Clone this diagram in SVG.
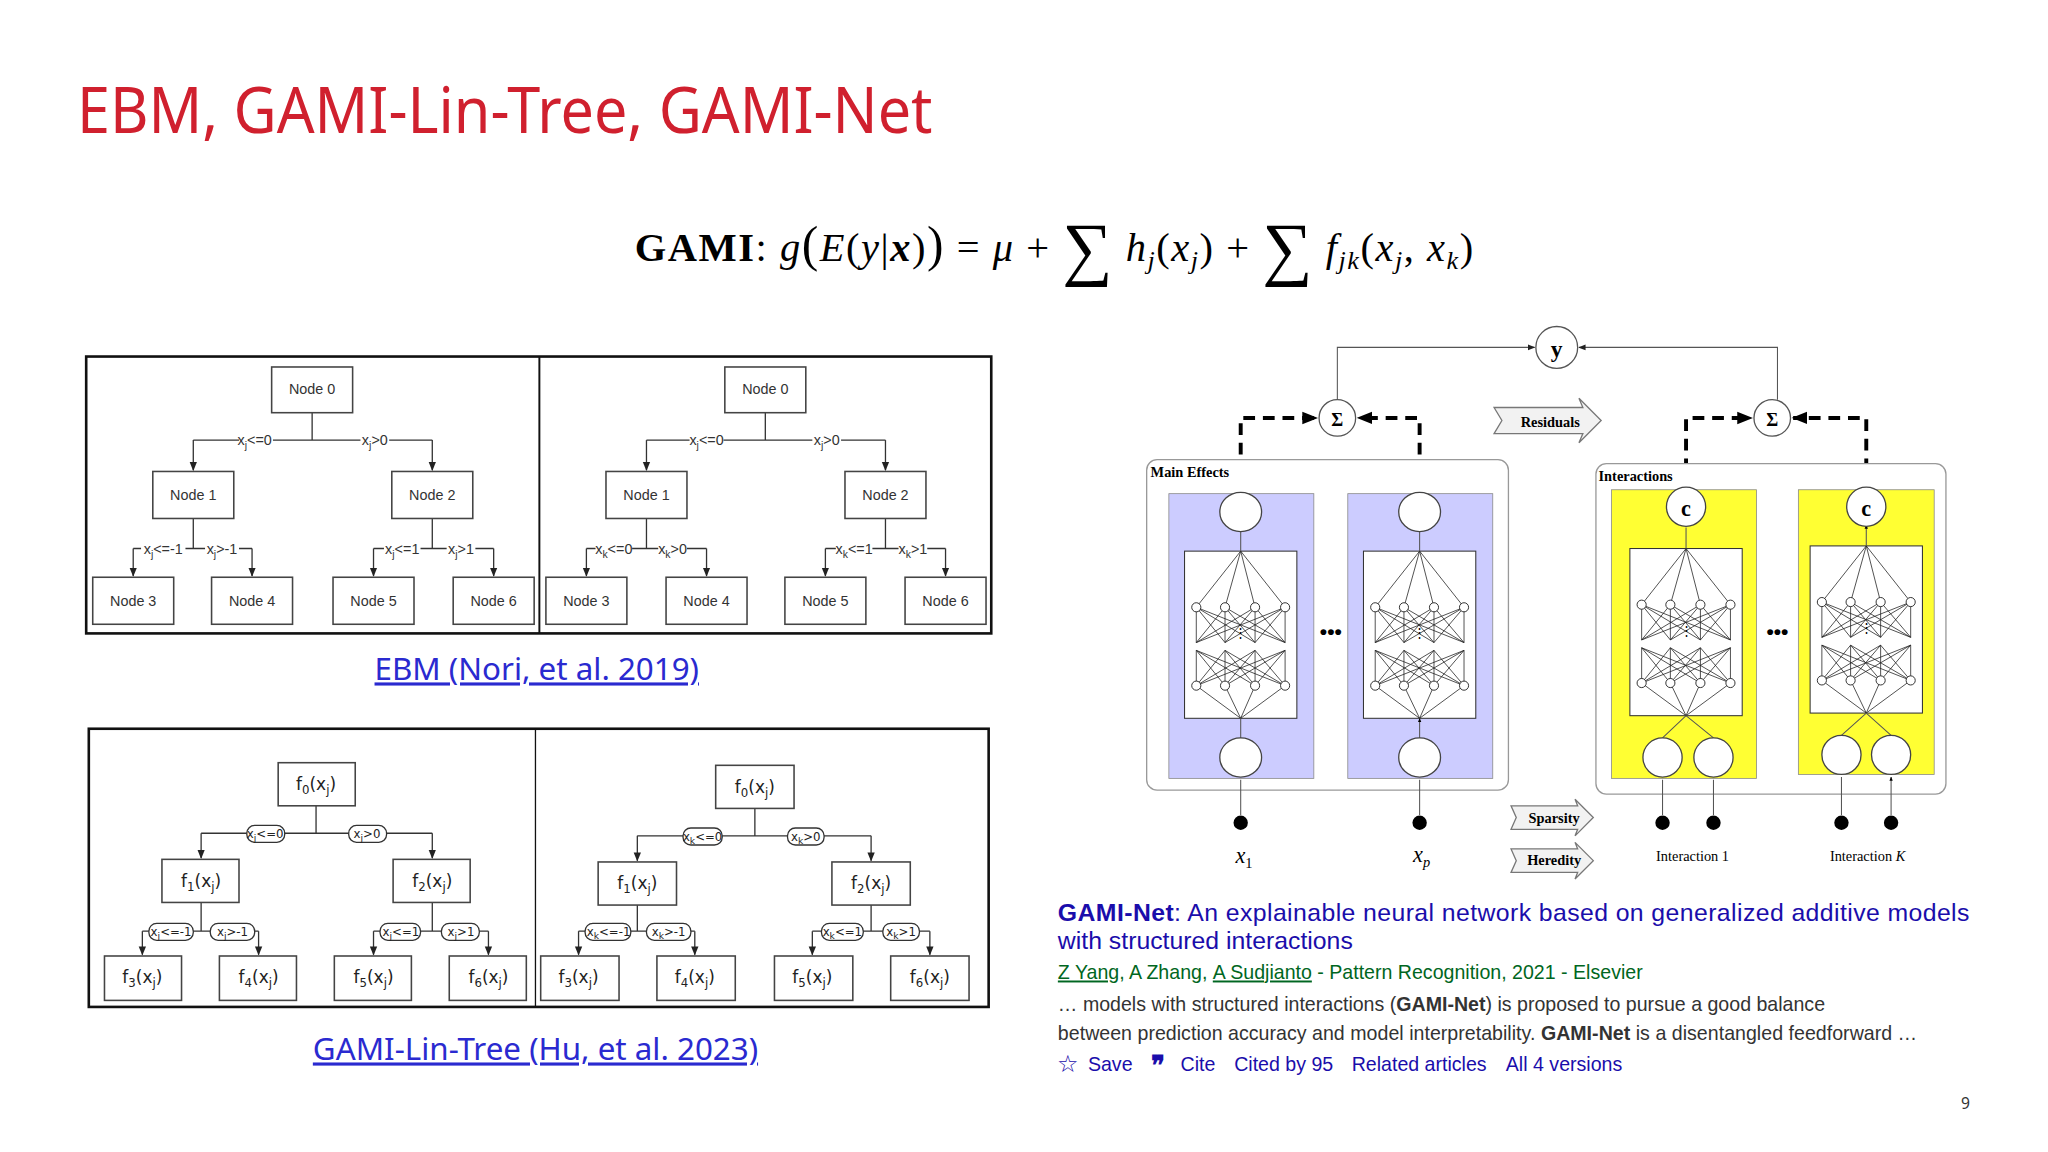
<svg xmlns="http://www.w3.org/2000/svg" width="2048" height="1152" viewBox="0 0 2048 1152">
<style>
.nb{fill:#fff;stroke:#444;stroke-width:1.2}
.ln{fill:none;stroke:#333;stroke-width:1}
.el{font-family:"Liberation Sans",Arial,sans-serif;font-size:11px;fill:#333;text-anchor:middle}
.ft{font-family:"DejaVu Sans",sans-serif;font-size:13px;fill:#222;text-anchor:middle}
.pt{font-family:"DejaVu Sans",sans-serif;font-size:9px;fill:#222;text-anchor:middle}
.pill{fill:#fff;stroke:#333;stroke-width:1}
.cap{font-family:"Noto Sans",sans-serif;font-size:24px;fill:#2a2ad0;text-anchor:middle;text-decoration:underline}
.sf{font-family:"Liberation Serif",serif}
.dash{fill:none;stroke:#000;stroke-width:3;stroke-dasharray:9,6}
.thin{fill:none;stroke:#555;stroke-width:0.8}
.g{font-family:"Liberation Sans",Arial,sans-serif;font-size:15px}
</style>
<defs>
<marker id="ah" viewBox="0 0 10 10" refX="9" refY="5" markerWidth="7" markerHeight="7" orient="auto"><path d="M0,1 L10,5 L0,9 z" fill="#222"/></marker>
<marker id="ah2" viewBox="0 0 10 10" refX="9" refY="5" markerWidth="4" markerHeight="4" orient="auto"><path d="M0,1 L10,5 L0,9 z" fill="#000"/></marker>
<g id="net">
<rect x="0" y="0" width="86" height="128" fill="#fff" stroke="#333" stroke-width="0.8"/>
<g stroke="#222" stroke-width="0.6">
<path d="M43,0L9,43M43,0L31,43M43,0L54,43M43,0L77,43"/>
<path d="M9,43L31,70M9,43L54,70M9,43L77,70M31,43L9,70M31,43L54,70M31,43L77,70M54,43L9,70M54,43L31,70M54,43L77,70M77,43L9,70M77,43L31,70M77,43L54,70M9,43L9,70M31,43L31,70M54,43L54,70M77,43L77,70"/>
<path d="M9,76L31,103M9,76L54,103M9,76L77,103M31,76L9,103M31,76L54,103M31,76L77,103M54,76L9,103M54,76L31,103M54,76L77,103M77,76L9,103M77,76L31,103M77,76L54,103M9,76L9,103M31,76L31,103M54,76L54,103M77,76L77,103"/>
<path d="M9,103L43,128M31,103L43,128M54,103L43,128M77,103L43,128"/>
</g>
<g fill="#fff" stroke="#222" stroke-width="0.7">
<circle cx="9" cy="43" r="3.5"/><circle cx="31" cy="43" r="3.5"/><circle cx="54" cy="43" r="3.5"/><circle cx="77" cy="43" r="3.5"/>
<circle cx="9" cy="103" r="3.5"/><circle cx="31" cy="103" r="3.5"/><circle cx="54" cy="103" r="3.5"/><circle cx="77" cy="103" r="3.5"/>
</g>
<text x="43" y="66" font-family="Liberation Serif" font-size="10" text-anchor="middle">⋮</text>
</g>
</defs>
<rect width="2048" height="1152" fill="#fff"/>
<g transform="scale(1.306)">
<g id="title"><text x="59" y="102" font-family="Noto Sans,sans-serif" font-size="49" fill="#d0202e" textLength="655" lengthAdjust="spacingAndGlyphs">EBM, GAMI-Lin-Tree, GAMI-Net</text></g>
<g id="formula" class="sf" font-size="31">
<text x="486" y="200" textLength="642"><tspan font-weight="bold">GAMI</tspan><tspan>: </tspan><tspan font-style="italic">g</tspan><tspan font-size="38">(</tspan><tspan font-style="italic">E</tspan>(<tspan font-style="italic">y</tspan>|<tspan font-style="italic" font-weight="bold">x</tspan>)<tspan font-size="38">)</tspan> = <tspan font-style="italic">μ</tspan> + <tspan font-size="54" dy="8">∑</tspan><tspan dy="-8" font-style="italic"> h</tspan><tspan font-size="20" dy="6" font-style="italic">j</tspan><tspan dy="-6">(</tspan><tspan font-style="italic">x</tspan><tspan font-size="20" dy="6" font-style="italic">j</tspan><tspan dy="-6">) + </tspan><tspan font-size="54" dy="8">∑</tspan><tspan dy="-8" font-style="italic"> f</tspan><tspan font-size="20" dy="6" font-style="italic">jk</tspan><tspan dy="-6">(</tspan><tspan font-style="italic">x</tspan><tspan font-size="20" dy="6" font-style="italic">j</tspan><tspan dy="-6">, </tspan><tspan font-style="italic">x</tspan><tspan font-size="20" dy="6" font-style="italic">k</tspan><tspan dy="-6">)</tspan></text>
</g>

<!-- EBM -->
<g id="ebm">
<rect x="66" y="273" width="693" height="212" fill="#fff" stroke="#111" stroke-width="2"/>
<line x1="413" y1="273" x2="413" y2="485" stroke="#111" stroke-width="1.5"/>
<g id="ebm-connectors" class="ln">
<path d="M239,316V337M148,337H331"/>
<path d="M148,337V360" marker-end="url(#ah)"/><path d="M331,337V360" marker-end="url(#ah)"/>
<path d="M148,397V420M102,420H193"/><path d="M102,420V441" marker-end="url(#ah)"/><path d="M193,420V441" marker-end="url(#ah)"/>
<path d="M331,397V420M286,420H378"/><path d="M286,420V441" marker-end="url(#ah)"/><path d="M378,420V441" marker-end="url(#ah)"/>
<path d="M586,316V337M495,337H678"/><path d="M495,337V360" marker-end="url(#ah)"/><path d="M678,337V360" marker-end="url(#ah)"/>
<path d="M495,397V420M449,420H541"/><path d="M449,420V441" marker-end="url(#ah)"/><path d="M541,420V441" marker-end="url(#ah)"/>
<path d="M678,397V420M632,420H724"/><path d="M632,420V441" marker-end="url(#ah)"/><path d="M724,420V441" marker-end="url(#ah)"/>
</g>
<g class="el">
<rect x="183" y="331" width="26" height="12" fill="#fff"/><text x="195" y="341">x<tspan font-size="8" dy="3">j</tspan><tspan dy="-3">&lt;=0</tspan></text>
<rect x="276" y="331" width="22" height="12" fill="#fff"/><text x="287" y="341">x<tspan font-size="8" dy="3">j</tspan><tspan dy="-3">&gt;0</tspan></text>
<rect x="108" y="414" width="34" height="12" fill="#fff"/><text x="125" y="424">x<tspan font-size="8" dy="3">j</tspan><tspan dy="-3">&lt;=-1</tspan></text>
<rect x="157" y="414" width="26" height="12" fill="#fff"/><text x="170" y="424">x<tspan font-size="8" dy="3">j</tspan><tspan dy="-3">&gt;-1</tspan></text>
<rect x="294" y="414" width="28" height="12" fill="#fff"/><text x="308" y="424">x<tspan font-size="8" dy="3">j</tspan><tspan dy="-3">&lt;=1</tspan></text>
<rect x="342" y="414" width="22" height="12" fill="#fff"/><text x="353" y="424">x<tspan font-size="8" dy="3">j</tspan><tspan dy="-3">&gt;1</tspan></text>
<rect x="528" y="331" width="26" height="12" fill="#fff"/><text x="541" y="341">x<tspan font-size="8" dy="3">j</tspan><tspan dy="-3">&lt;=0</tspan></text>
<rect x="622" y="331" width="22" height="12" fill="#fff"/><text x="633" y="341">x<tspan font-size="8" dy="3">j</tspan><tspan dy="-3">&gt;0</tspan></text>
<rect x="456" y="414" width="28" height="12" fill="#fff"/><text x="470" y="424">x<tspan font-size="8" dy="3">k</tspan><tspan dy="-3">&lt;=0</tspan></text>
<rect x="504" y="414" width="22" height="12" fill="#fff"/><text x="515" y="424">x<tspan font-size="8" dy="3">k</tspan><tspan dy="-3">&gt;0</tspan></text>
<rect x="640" y="414" width="28" height="12" fill="#fff"/><text x="654" y="424">x<tspan font-size="8" dy="3">k</tspan><tspan dy="-3">&lt;=1</tspan></text>
<rect x="688" y="414" width="22" height="12" fill="#fff"/><text x="699" y="424">x<tspan font-size="8" dy="3">k</tspan><tspan dy="-3">&gt;1</tspan></text>
</g>
<g id="ebm-nodes" class="el">
<g id="e0"><rect class="nb" x="208" y="281" width="62" height="35"/><text x="239" y="302">Node 0</text></g>
<g id="e1"><rect class="nb" x="117" y="361" width="62" height="36"/><text x="148" y="383">Node 1</text></g>
<g id="e2"><rect class="nb" x="300" y="361" width="62" height="36"/><text x="331" y="383">Node 2</text></g>
<g id="e3"><rect class="nb" x="71" y="442" width="62" height="36"/><text x="102" y="464">Node 3</text></g>
<g id="e4"><rect class="nb" x="162" y="442" width="62" height="36"/><text x="193" y="464">Node 4</text></g>
<g id="e5"><rect class="nb" x="255" y="442" width="62" height="36"/><text x="286" y="464">Node 5</text></g>
<g id="e6"><rect class="nb" x="347" y="442" width="62" height="36"/><text x="378" y="464">Node 6</text></g>
<g id="r0"><rect class="nb" x="555" y="281" width="62" height="35"/><text x="586" y="302">Node 0</text></g>
<g id="r1"><rect class="nb" x="464" y="361" width="62" height="36"/><text x="495" y="383">Node 1</text></g>
<g id="r2"><rect class="nb" x="647" y="361" width="62" height="36"/><text x="678" y="383">Node 2</text></g>
<g id="r3"><rect class="nb" x="418" y="442" width="62" height="36"/><text x="449" y="464">Node 3</text></g>
<g id="r4"><rect class="nb" x="510" y="442" width="62" height="36"/><text x="541" y="464">Node 4</text></g>
<g id="r5"><rect class="nb" x="601" y="442" width="62" height="36"/><text x="632" y="464">Node 5</text></g>
<g id="r6"><rect class="nb" x="693" y="442" width="62" height="36"/><text x="724" y="464">Node 6</text></g>
</g>
</g>
<text class="cap" x="411" y="521">EBM (Nori, et al. 2019)</text>

<!-- GAMI-Lin-Tree -->
<g id="lintree">
<rect x="68" y="558" width="689" height="213" fill="#fff" stroke="#111" stroke-width="2"/>
<line x1="410" y1="558" x2="410" y2="771" stroke="#111" stroke-width="1"/>
<g class="ln">
<path d="M242,617V638M154,638H331"/><path d="M154,638V657" marker-end="url(#ah)"/><path d="M331,638V657" marker-end="url(#ah)"/>
<path d="M154,691V713M109,713H198"/><path d="M109,713V731" marker-end="url(#ah)"/><path d="M198,713V731" marker-end="url(#ah)"/>
<path d="M331,691V713M286,713H374"/><path d="M286,713V731" marker-end="url(#ah)"/><path d="M374,713V731" marker-end="url(#ah)"/>
<path d="M578,619V640M488,640H667"/><path d="M488,640V659" marker-end="url(#ah)"/><path d="M667,640V659" marker-end="url(#ah)"/>
<path d="M488,693V713M443,713H532"/><path d="M443,713V731" marker-end="url(#ah)"/><path d="M532,713V731" marker-end="url(#ah)"/>
<path d="M667,693V713M622,713H712"/><path d="M622,713V731" marker-end="url(#ah)"/><path d="M712,713V731" marker-end="url(#ah)"/>
</g>
<g class="pt">
<rect class="pill" x="189" y="632" width="29" height="13" rx="6"/><text x="203" y="642">x<tspan font-size="7" dy="2">j</tspan><tspan dy="-2">&lt;=0</tspan></text>
<rect class="pill" x="267" y="632" width="29" height="13" rx="6"/><text x="281" y="642">x<tspan font-size="7" dy="2">j</tspan><tspan dy="-2">&gt;0</tspan></text>
<rect class="pill" x="114" y="707" width="34" height="13" rx="6"/><text x="131" y="717">x<tspan font-size="7" dy="2">j</tspan><tspan dy="-2">&lt;=-1</tspan></text>
<rect class="pill" x="161" y="707" width="34" height="13" rx="6"/><text x="178" y="717">x<tspan font-size="7" dy="2">j</tspan><tspan dy="-2">&gt;-1</tspan></text>
<rect class="pill" x="291" y="707" width="31" height="13" rx="6"/><text x="307" y="717">x<tspan font-size="7" dy="2">j</tspan><tspan dy="-2">&lt;=1</tspan></text>
<rect class="pill" x="338" y="707" width="29" height="13" rx="6"/><text x="353" y="717">x<tspan font-size="7" dy="2">j</tspan><tspan dy="-2">&gt;1</tspan></text>
<rect class="pill" x="523" y="634" width="30" height="13" rx="6"/><text x="538" y="644">x<tspan font-size="7" dy="2">k</tspan><tspan dy="-2">&lt;=0</tspan></text>
<rect class="pill" x="603" y="634" width="28" height="13" rx="6"/><text x="617" y="644">x<tspan font-size="7" dy="2">k</tspan><tspan dy="-2">&gt;0</tspan></text>
<rect class="pill" x="448" y="707" width="35" height="13" rx="6"/><text x="466" y="717">x<tspan font-size="7" dy="2">k</tspan><tspan dy="-2">&lt;=-1</tspan></text>
<rect class="pill" x="495" y="707" width="34" height="13" rx="6"/><text x="512" y="717">x<tspan font-size="7" dy="2">k</tspan><tspan dy="-2">&gt;-1</tspan></text>
<rect class="pill" x="629" y="707" width="32" height="13" rx="6"/><text x="645" y="717">x<tspan font-size="7" dy="2">k</tspan><tspan dy="-2">&lt;=1</tspan></text>
<rect class="pill" x="676" y="707" width="28" height="13" rx="6"/><text x="690" y="717">x<tspan font-size="7" dy="2">k</tspan><tspan dy="-2">&gt;1</tspan></text>
</g>
<g class="ft">
<g id="l0"><rect class="nb" x="213" y="584" width="59" height="33"/><text x="242" y="605">f<tspan font-size="9" dy="3">0</tspan><tspan dy="-3">(x</tspan><tspan font-size="9" dy="3">j</tspan><tspan dy="-3">)</tspan></text></g>
<g id="l1"><rect class="nb" x="124" y="658" width="59" height="33"/><text x="154" y="679">f<tspan font-size="9" dy="3">1</tspan><tspan dy="-3">(x</tspan><tspan font-size="9" dy="3">j</tspan><tspan dy="-3">)</tspan></text></g>
<g id="l2"><rect class="nb" x="301" y="658" width="59" height="33"/><text x="331" y="679">f<tspan font-size="9" dy="3">2</tspan><tspan dy="-3">(x</tspan><tspan font-size="9" dy="3">j</tspan><tspan dy="-3">)</tspan></text></g>
<g id="l3"><rect class="nb" x="80" y="732" width="59" height="34"/><text x="109" y="753">f<tspan font-size="9" dy="3">3</tspan><tspan dy="-3">(x</tspan><tspan font-size="9" dy="3">j</tspan><tspan dy="-3">)</tspan></text></g>
<g id="l4"><rect class="nb" x="168" y="732" width="59" height="34"/><text x="198" y="753">f<tspan font-size="9" dy="3">4</tspan><tspan dy="-3">(x</tspan><tspan font-size="9" dy="3">j</tspan><tspan dy="-3">)</tspan></text></g>
<g id="l5"><rect class="nb" x="256" y="732" width="59" height="34"/><text x="286" y="753">f<tspan font-size="9" dy="3">5</tspan><tspan dy="-3">(x</tspan><tspan font-size="9" dy="3">j</tspan><tspan dy="-3">)</tspan></text></g>
<g id="l6"><rect class="nb" x="344" y="732" width="59" height="34"/><text x="374" y="753">f<tspan font-size="9" dy="3">6</tspan><tspan dy="-3">(x</tspan><tspan font-size="9" dy="3">j</tspan><tspan dy="-3">)</tspan></text></g>
<g id="m0"><rect class="nb" x="548" y="586" width="60" height="33"/><text x="578" y="607">f<tspan font-size="9" dy="3">0</tspan><tspan dy="-3">(x</tspan><tspan font-size="9" dy="3">j</tspan><tspan dy="-3">)</tspan></text></g>
<g id="m1"><rect class="nb" x="458" y="660" width="60" height="33"/><text x="488" y="681">f<tspan font-size="9" dy="3">1</tspan><tspan dy="-3">(x</tspan><tspan font-size="9" dy="3">j</tspan><tspan dy="-3">)</tspan></text></g>
<g id="m2"><rect class="nb" x="637" y="660" width="60" height="33"/><text x="667" y="681">f<tspan font-size="9" dy="3">2</tspan><tspan dy="-3">(x</tspan><tspan font-size="9" dy="3">j</tspan><tspan dy="-3">)</tspan></text></g>
<g id="m3"><rect class="nb" x="414" y="732" width="60" height="34"/><text x="443" y="753">f<tspan font-size="9" dy="3">3</tspan><tspan dy="-3">(x</tspan><tspan font-size="9" dy="3">j</tspan><tspan dy="-3">)</tspan></text></g>
<g id="m4"><rect class="nb" x="503" y="732" width="60" height="34"/><text x="532" y="753">f<tspan font-size="9" dy="3">4</tspan><tspan dy="-3">(x</tspan><tspan font-size="9" dy="3">j</tspan><tspan dy="-3">)</tspan></text></g>
<g id="m5"><rect class="nb" x="593" y="732" width="60" height="34"/><text x="622" y="753">f<tspan font-size="9" dy="3">5</tspan><tspan dy="-3">(x</tspan><tspan font-size="9" dy="3">j</tspan><tspan dy="-3">)</tspan></text></g>
<g id="m6"><rect class="nb" x="682" y="732" width="60" height="34"/><text x="712" y="753">f<tspan font-size="9" dy="3">6</tspan><tspan dy="-3">(x</tspan><tspan font-size="9" dy="3">j</tspan><tspan dy="-3">)</tspan></text></g>
</g>
</g>
<text class="cap" x="410" y="812">GAMI-Lin-Tree (Hu, et al. 2023)</text>

<!-- GAMI-Net -->
<g id="gaminet">
<g id="net-connectors">
<path class="thin" d="M1024,306V266H1175" marker-end="url(#ah)"/>
<path class="thin" d="M1361,306V266H1209" marker-end="url(#ah)"/>
<path class="dash" d="M950,378V320H1008" marker-end="url(#ah2)"/>
<path class="dash" d="M1087,378V320H1040" marker-end="url(#ah2)"/>
<path class="dash" d="M1291,375V320H1341" marker-end="url(#ah2)"/>
<path class="dash" d="M1429,375V320H1373" marker-end="url(#ah2)"/>
</g>
<g id="yn"><circle cx="1192" cy="266" r="16" fill="#fff" stroke="#555"/><text x="1192" y="273" class="sf" font-size="18" font-weight="bold" text-anchor="middle">y</text></g>
<g id="s1"><circle cx="1024" cy="320" r="14" fill="#fff" stroke="#555"/><text x="1024" y="326" class="sf" font-size="14" font-weight="bold" text-anchor="middle">Σ</text></g>
<g id="s2"><circle cx="1357" cy="320" r="14" fill="#fff" stroke="#555"/><text x="1357" y="326" class="sf" font-size="14" font-weight="bold" text-anchor="middle">Σ</text></g>
<g id="main">
<rect x="878" y="352" width="277" height="253" rx="8" fill="#fff" stroke="#999"/>
<text x="881" y="365" class="sf" font-size="11" font-weight="bold">Main Effects</text>
<rect x="895" y="378" width="111" height="218" fill="#ccccff" stroke="#888" stroke-width="0.6"/>
<rect x="1032" y="378" width="111" height="218" fill="#ccccff" stroke="#888" stroke-width="0.6"/>
<use href="#net" x="907" y="422"/><use href="#net" x="1044" y="422"/>
<path class="thin" d="M950,422V406M950,565V550M1087,422V406M1087,565V550" marker-end="url(#ah2)"/>
<ellipse cx="950" cy="392" rx="16" ry="15" fill="#fff" stroke="#444"/>
<ellipse cx="1087" cy="392" rx="16" ry="15" fill="#fff" stroke="#444"/>
<ellipse cx="950" cy="580" rx="16" ry="15" fill="#fff" stroke="#444"/>
<ellipse cx="1087" cy="580" rx="16" ry="15" fill="#fff" stroke="#444"/>
<text x="1019" y="489" font-family="Liberation Sans" font-size="16" font-weight="bold" text-anchor="middle">•••</text>
</g>
<g id="inter">
<rect x="1222" y="355" width="268" height="253" rx="8" fill="#fff" stroke="#999"/>
<text x="1224" y="368" class="sf" font-size="11" font-weight="bold">Interactions</text>
<rect x="1234" y="375" width="111" height="221" fill="#ffff33" stroke="#888" stroke-width="0.6"/>
<rect x="1377" y="375" width="104" height="218" fill="#ffff33" stroke="#888" stroke-width="0.6"/>
<use href="#net" x="1248" y="420"/><use href="#net" x="1386" y="418"/>
<path class="thin" d="M1291,420V404M1429,418V402" marker-end="url(#ah2)"/>
<path class="thin" d="M1273,565L1291,548L1312,565M1410,563L1429,546L1448,563"/>
<ellipse cx="1291" cy="388" rx="15" ry="15" fill="#fff" stroke="#444"/>
<ellipse cx="1429" cy="388" rx="15" ry="15" fill="#fff" stroke="#444"/>
<text x="1291" y="395" class="sf" font-size="17" font-weight="bold" text-anchor="middle">c</text>
<text x="1429" y="395" class="sf" font-size="17" font-weight="bold" text-anchor="middle">c</text>
<ellipse cx="1273" cy="580" rx="15" ry="15" fill="#fff" stroke="#444"/>
<ellipse cx="1312" cy="580" rx="15" ry="15" fill="#fff" stroke="#444"/>
<ellipse cx="1410" cy="578" rx="15" ry="15" fill="#fff" stroke="#444"/>
<ellipse cx="1448" cy="578" rx="15" ry="15" fill="#fff" stroke="#444"/>
<text x="1361" y="489" font-family="Liberation Sans" font-size="16" font-weight="bold" text-anchor="middle">•••</text>
</g>
<g id="inputs">
<path class="thin" d="M950,624V597M1087,624V597M1273,624V597M1312,624V597M1410,624V595M1448,624V595" marker-end="url(#ah2)"/>
<circle cx="950" cy="630" r="5.5"/><circle cx="1087" cy="630" r="5.5"/>
<circle cx="1273" cy="630" r="5.5"/><circle cx="1312" cy="630" r="5.5"/>
<circle cx="1410" cy="630" r="5.5"/><circle cx="1448" cy="630" r="5.5"/>
<text x="946" y="661" class="sf" font-size="17" font-style="italic">x<tspan font-size="11" dy="4" font-style="normal">1</tspan></text>
<text x="1082" y="660" class="sf" font-size="17" font-style="italic">x<tspan font-size="11" dy="4">p</tspan></text>
<text x="1296" y="659" class="sf" font-size="11" text-anchor="middle">Interaction 1</text>
<text x="1430" y="659" class="sf" font-size="11" text-anchor="middle">Interaction <tspan font-style="italic">K</tspan></text>
</g>
<g id="res"><path d="M1144,312H1212L1209,305L1226,322L1209,339L1212,332H1144L1150,322Z" fill="#f2f2f2" stroke="#777"/><text x="1187" y="327" class="sf" font-size="11" font-weight="bold" text-anchor="middle">Residuals</text></g>
<g id="spa"><path d="M1157,617H1208L1206,612L1220,626L1206,640L1208,635H1157L1161,626Z" fill="#f2f2f2" stroke="#777"/><text x="1190" y="630" class="sf" font-size="11" font-weight="bold" text-anchor="middle">Sparsity</text></g>
<g id="her"><path d="M1157,650H1208L1206,645L1220,659L1206,673L1208,668H1157L1161,659Z" fill="#f2f2f2" stroke="#777"/><text x="1190" y="662" class="sf" font-size="11" font-weight="bold" text-anchor="middle">Heredity</text></g>
</g>

<g id="citation" class="g">
<text x="810" y="705" font-size="19" fill="#1a0dab" textLength="698"><tspan font-weight="bold">GAMI-Net</tspan>: An explainable neural network based on generalized additive models</text>
<text x="810" y="727" font-size="19" fill="#1a0dab">with structured interactions</text>
<text x="810" y="750" fill="#006621"><tspan text-decoration="underline">Z Yang</tspan>, A Zhang, <tspan text-decoration="underline">A Sudjianto</tspan> - Pattern Recognition, 2021 - Elsevier</text>
<text x="810" y="774" fill="#333">… models with structured interactions (<tspan font-weight="bold">GAMI-Net</tspan>) is proposed to pursue a good balance</text>
<text x="810" y="796" fill="#333" textLength="658">between prediction accuracy and model interpretability. <tspan font-weight="bold">GAMI-Net</tspan> is a disentangled feedforward …</text>
<g fill="#1a0dab">
<text x="809" y="821" font-size="18">☆</text><text x="833" y="820">Save</text>
<text x="881" y="822" font-size="20" font-weight="bold">❞</text><text x="904" y="820">Cite</text>
<text x="945" y="820">Cited by 95</text>
<text x="1035" y="820">Related articles</text>
<text x="1153" y="820">All 4 versions</text>
</g>
</g>
<text x="1505" y="849" font-family="Noto Sans,sans-serif" font-size="12" fill="#333" text-anchor="middle">9</text>
</g>
</svg>
